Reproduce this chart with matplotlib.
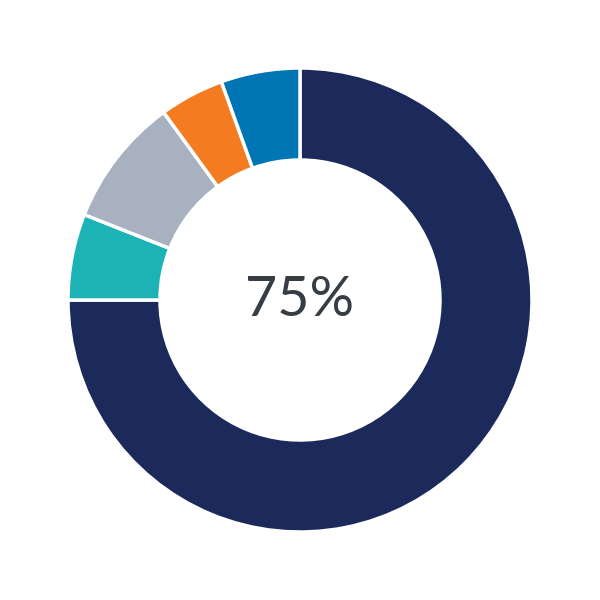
import matplotlib
matplotlib.use("Agg")
import matplotlib.pyplot as plt

# slices clockwise from 12 o'clock
labels = ["Main", "Teal", "Grey", "Orange", "Blue"]
values = [75, 6, 9, 4.5, 5.5]
colors = ["#1b2a5a", "#1bb3b5", "#a7b1bf", "#f47b20", "#0075b4"]
center_text = "75%"

fig = plt.figure(figsize=(6, 6), dpi=100)
ax = fig.add_axes([0, 0, 1, 1])
ax.pie(values, colors=colors, startangle=90, counterclock=False,
       radius=1.0,
       wedgeprops=dict(width=92 / 232, edgecolor="white", linewidth=2.5))
ax.text(0, 0, center_text, ha="center", va="center", fontsize=40,
        family=["Lato", "DejaVu Sans"], color="#363d45")
lim = 300 / 232
ax.set_xlim(-lim, lim)
ax.set_ylim(-lim, lim)
ax.set_aspect("equal")
ax.axis("off")
fig.savefig("out.png", dpi=100, facecolor="white")
